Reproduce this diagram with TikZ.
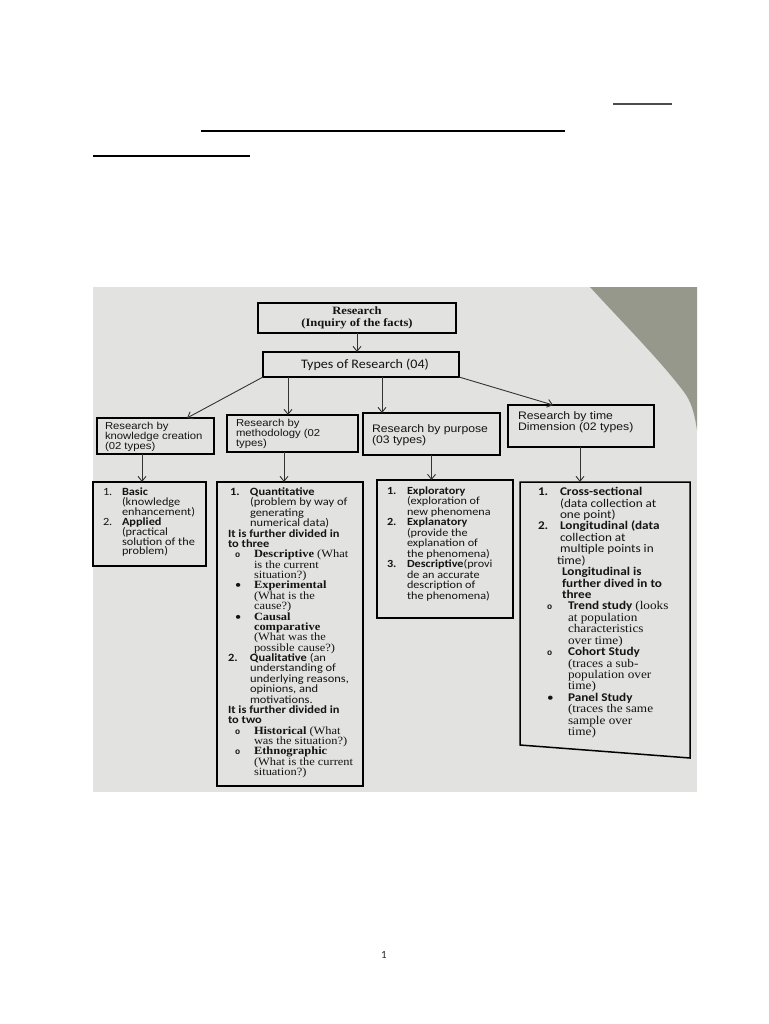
\documentclass[tikz,border=0pt]{standalone}
\usepackage{fontspec}
\setmainfont{Liberation Serif}
\newfontfamily\cb{Carlito}[FakeStretch=1.12]
\newfontfamily\ts{Liberation Serif}[FakeStretch=1.12]
\newfontfamily\ar{Liberation Sans}[FakeStretch=1.12]
\newfontfamily\typ{Carlito}[FakeStretch=1.08]
\newfontfamily\mono{Liberation Mono}
\newfontfamily\pg{Carlito}
\usetikzlibrary{arrows.meta}
\newcommand\hs[1]{\hspace*{#1pt}}
\newcommand\lab[3]{\makebox[#1pt][l]{\hspace*{#2pt}#3}}
\newcommand\wb{{\mono\bfseries\fontsize{8.5}{8}\selectfont o}}
\newcommand\fb{•}
\definecolor{fold}{RGB}{150,152,140}
\definecolor{paper}{RGB}{226,226,224}
\begin{document}
\lineskiplimit=-20pt\relax
\begin{tikzpicture}[x=1pt,y=-1pt,
  box/.style={draw=black, line width=1.5pt, inner sep=0pt, outer sep=0pt, anchor=north west},
  txt/.style={inner sep=0pt, outer sep=0pt, anchor=north west, align=left, text=black!92},
  arr/.style={draw=black!80, line width=0.9pt, -{Straight Barb[length=5pt,width=8pt]}}]
\useasboundingbox (0,0) rectangle (768,1024);
\fill[white] (0,0) rectangle (768,1024);
% rules at the top of the page
\draw[gray!60!black, line width=1.5pt] (613,104) -- (672,104);
\draw[black, line width=2pt] (201,131) -- (565,131);
\draw[black, line width=2pt] (93,156) -- (250,156);
% photo background
\fill[paper] (93,287) rectangle (697,792);
\fill[fold] (590,287) -- (697,287) -- (697,430) .. controls (694,410) and (690,400) .. (684,392) .. controls (660,360) and (620,320) .. (590,287) -- cycle;
% top boxes
\node[box, minimum width=198, minimum height=30] (res) at (258,303) {};
\node[txt, anchor=center, align=center, font=\ts\bfseries\fontsize{11.2}{12.5}\selectfont] (rest) at (357,318) {Research\\(Inquiry of the facts)};
\node[box, minimum width=196, minimum height=25] (typ) at (263,352) {};
\node[txt, anchor=center, font=\typ\fontsize{13}{14}\selectfont] (typt) at (365,364.5) {Types of Research (04)};
% level 2
\node[box, minimum width=117, minimum height=36] (b1) at (97,418) {};
\node[box, minimum width=131, minimum height=37] (b2) at (227,415) {};
\node[box, minimum width=137, minimum height=42] (b3) at (363,413) {};
\node[box, minimum width=146, minimum height=42] (b4) at (508,405) {};
\node[txt, font=\ar\fontsize{10.1}{10}\selectfont] (b1t) at (105,422) {Research by\\knowledge creation\\(02 types)};
\node[txt, font=\ar\fontsize{10.1}{10}\selectfont] (b2t) at (236,419) {Research by\\methodology (02\\types)};
\node[txt, font=\ar\fontsize{10.9}{10.8}\selectfont] (b3t) at (372,424.5) {Research by purpose\\(03 types)};
\node[txt, font=\ar\fontsize{10.9}{10.8}\selectfont] (b4t) at (518,411.5) {Research by time\\Dimension (02 types)};
% level 3
\node[box, minimum width=113, minimum height=84] (c1) at (93,482) {};
\node[box, minimum width=146, minimum height=304] (c2) at (217,482) {};
\node[box, minimum width=136, minimum height=138] (c3) at (377,480) {};
\node[box, draw=none, minimum width=170, minimum height=263] (c4) at (520,482) {};
\draw[line width=1.5pt, black] (c4.north west) -- (c4.north east) -- ([yshift=-13pt]c4.south east) -- (c4.south west) -- cycle;
% texts of level 3
\node[txt, font=\cb\fontsize{11}{9.9}\selectfont] (c1t) at (98,487.8) {%
\lab{24}{5}{1.}\textbf{Basic}\\
\hs{24}(knowledge\\
\hs{24}enhancement)\\
\lab{24}{5}{2.}\textbf{Applied}\\
\hs{24}(practical\\
\hs{24}solution of the\\
\hs{24}problem)};
\node[txt, font=\cb\fontsize{11.1}{10.37}\selectfont] (c2t) at (222,487.8) {%
\lab{28}{8}{\bfseries 1.}\textbf{Quantitative}\\
\hs{28}(problem by way of\\
\hs{28}generating\\
\hs{28}numerical data)\\
\hs{6}\textbf{It is further divided in}\\
\hs{6}\textbf{to three}\\
\lab{32}{13}{\wb}{\ts\textbf{Descriptive} (What}\\
\hs{32}{\ts is the current}\\
\hs{32}{\ts situation?)}\\
\lab{32}{13}{\fb}{\ts\textbf{Experimental}}\\
\hs{32}{\ts(What is the}\\
\hs{32}{\ts cause?)}\\
\lab{32}{13}{\fb}{\ts\textbf{Causal}}\\
\hs{32}{\ts\textbf{comparative}}\\
\hs{32}{\ts(What was the}\\
\hs{32}{\ts possible cause?)}\\
\lab{28}{6}{\bfseries 2.}\textbf{Qualitative} (an\\
\hs{28}understanding of\\
\hs{28}underlying reasons,\\
\hs{28}opinions, and\\
\hs{28}motivations.\\
\hs{6}\textbf{It is further divided in}\\
\hs{6}\textbf{to two}\\
\lab{32}{13}{\wb}{\ts\textbf{Historical} (What}\\
\hs{32}{\ts was the situation?)}\\
\lab{32}{13}{\wb}{\ts\textbf{Ethnographic}}\\
\hs{32}{\ts(What is the current}\\
\hs{32}{\ts situation?)}};
\node[txt, font=\cb\fontsize{10.9}{10.5}\selectfont] (c3t) at (382,486.8) {%
\lab{25}{5}{\bfseries 1.}\textbf{Exploratory}\\
\hs{25}(exploration of\\
\hs{25}new phenomena\\
\lab{25}{5}{\bfseries 2.}\textbf{Explanatory}\\
\hs{25}(provide the\\
\hs{25}explanation of\\
\hs{25}the phenomena)\\
\lab{25}{5}{\bfseries 3.}\textbf{Descriptive}(provi\\
\hs{25}de an accurate\\
\hs{25}description of\\
\hs{25}the phenomena)};
\node[txt, font=\cb\fontsize{11.8}{11.43}\selectfont] (c4t) at (527,487.3) {%
\lab{33}{11}{\bfseries 1.}\textbf{Cross-sectional}\\
\hs{33}(data collection at\\
\hs{33}one point)\\
\lab{33}{11}{\bfseries 2.}\textbf{Longitudinal (data}\\
\hs{33}collection at\\
\hs{33}multiple points in\\
\hs{30}time)\\
\hs{35}\textbf{Longitudinal is}\\
\hs{35}\textbf{further dived in to}\\
\hs{35}\textbf{three}\\
\lab{41}{20}{\wb}\textbf{Trend study} {\ts(looks}\\
\hs{41}{\ts at population}\\
\hs{41}{\ts characteristics}\\
\hs{41}{\ts over time)}\\
\lab{41}{20}{\wb}\textbf{Cohort Study}\\
\hs{41}{\ts(traces a sub-}\\
\hs{41}{\ts population over}\\
\hs{41}{\ts time)}\\
\lab{41}{20}{\fb}\textbf{Panel Study}\\
\hs{41}{\ts(traces the same}\\
\hs{41}{\ts sample over}\\
\hs{41}{\ts time)}};
% connectors
\draw[arr] (res.south) -- (res.south |- typ.north);
\draw[arr] (typ.south west) -- ([xshift=31.5pt]b1.north);
\draw[arr] ([xshift=-73pt]typ.south) -- ([xshift=-4.5pt]b2.north);
\draw[arr] ([xshift=21pt]typ.south) -- ([xshift=-49.5pt]b3.north);
\draw[arr] (typ.south east) -- ([xshift=-28pt]b4.north);
\draw[arr] ([xshift=-13.5pt]b1.south) -- ([xshift=-13.5pt]b1.south |- c1.north);
\draw[arr] ([xshift=-8.5pt]b2.south) -- ([xshift=-8.5pt]b2.south |- c2.north);
\draw[arr] (b3.south) -- (b3.south |- c3.north);
\draw[arr] ([xshift=-1pt]b4.south) -- ([xshift=-1pt]b4.south |- c4.north);
% page number
\node[font=\pg\fontsize{11}{13}\selectfont, text=black!85] (pnum) at (384,955) {1};
\end{tikzpicture}
\end{document}
